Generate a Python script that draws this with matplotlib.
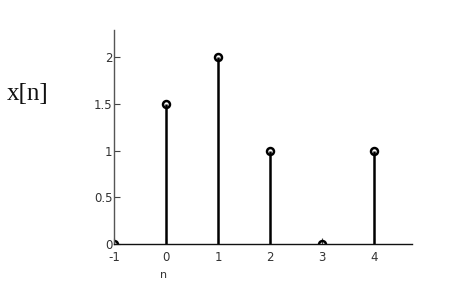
import matplotlib
matplotlib.use("Agg")
import matplotlib.pyplot as plt
import numpy as np

n = np.array([-1, 0, 1, 2, 3, 4])
x = np.array([0, 1.5, 2, 1, 0, 1])
yticks = [0, 0.5, 1, 1.5, 2]
ytick_labels = ["0", "0.5", "1", "1.5", "2"]

fig = plt.figure(figsize=(4.74, 2.89), dpi=100)
ax = fig.add_axes([0.2405, 0.1557, 0.6285, 0.7403])

markers, stems, base = ax.stem(n, x, linefmt="k-", markerfmt="ko", basefmt=" ")
plt.setp(stems, linewidth=1.8)
plt.setp(markers, markersize=5, markerfacecolor="none", markeredgewidth=1.8)
# clip the markers that sit on the baseline, like the original
clip = plt.Rectangle((0, 0), 1, 1, transform=ax.transAxes, fill=False)
ax.add_patch(clip)
clip.set_visible(False)
markers.set_clip_path(clip)

ax.set_xlim(-1, 4.73)
ax.set_ylim(0, 2.29)
ax.set_xticks(n)
ax.set_xticklabels([str(v) for v in n])
ax.set_yticks(yticks)
ax.set_yticklabels(ytick_labels)

for side in ("top", "right"):
    ax.spines[side].set_visible(False)
ax.spines["left"].set_color("#555555")
ax.spines["bottom"].set_color("#111111")
for side in ("left", "bottom"):
    ax.spines[side].set_linewidth(1.0)
    ax.spines[side].set_zorder(5)

ax.tick_params(direction="in", length=4, width=0.8, colors="#444444",
               labelsize=8.5, labelcolor="#333333")
ax.tick_params(axis="x", pad=5)
ax.tick_params(axis="y", pad=1)

ax.set_xlabel("n", fontsize=8, color="#333333")
ax.xaxis.set_label_coords(0.165, -0.12)

fig.text(7 / 474, 1 - 94 / 289, "x[n]", fontsize=18, family="Liberation Serif",
         va="center", ha="left", color="#111111")

fig.savefig("out.png", dpi=100)
